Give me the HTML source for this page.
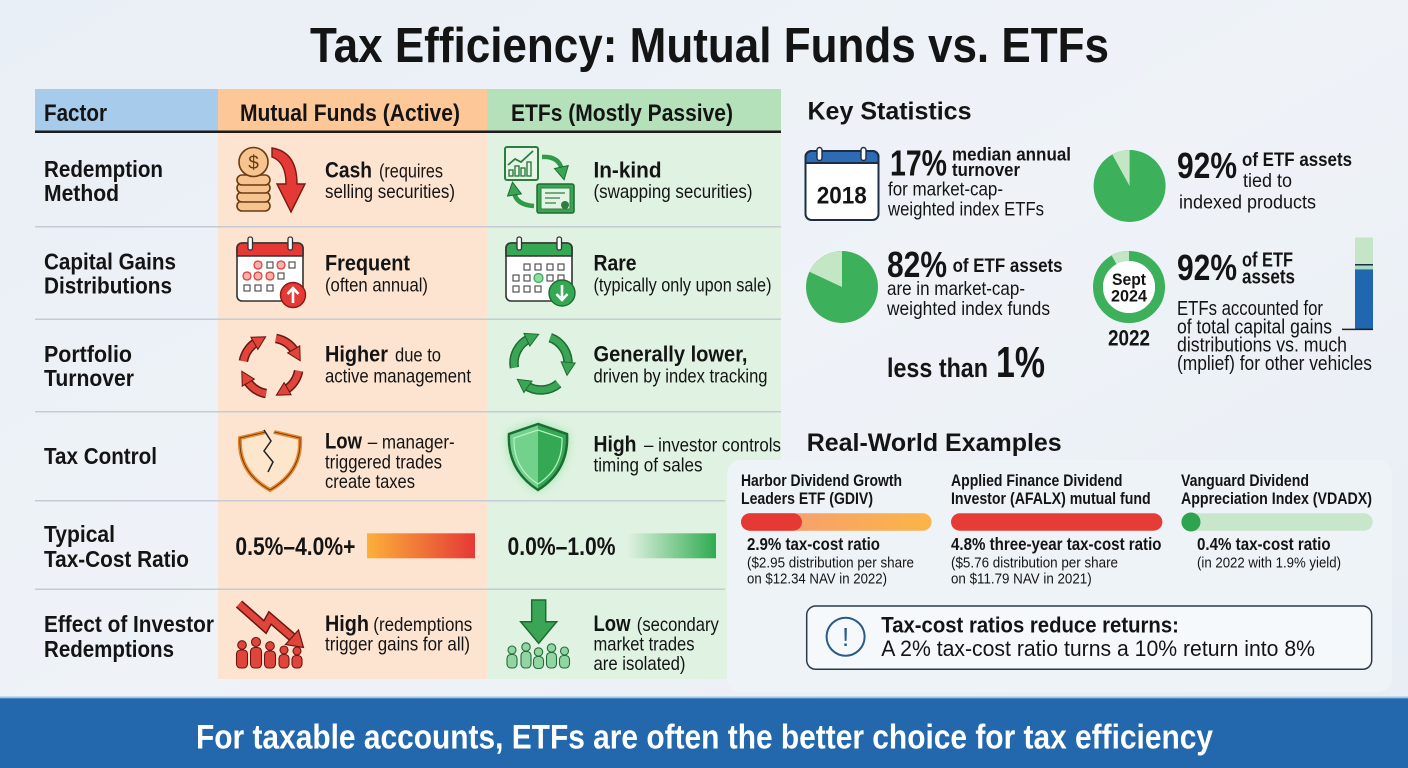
<!DOCTYPE html>
<html><head><meta charset="utf-8"><style>
html,body{margin:0;padding:0;width:1408px;height:768px;overflow:hidden;background:#edf2f7}
svg{display:block}
text{font-family:"Liberation Sans",Arial,sans-serif;fill:#141414}
.b{font-weight:bold}
</style></head><body>
<svg width="1408" height="768" viewBox="0 0 1408 768" xmlns="http://www.w3.org/2000/svg">
<defs>
<linearGradient id="bg" x1="0" y1="0" x2="1" y2="1"><stop offset="0" stop-color="#e9eff6"/><stop offset="0.5" stop-color="#eff3f8"/><stop offset="1" stop-color="#e7edf4"/></linearGradient>
<linearGradient id="og" x1="0" x2="1"><stop offset="0" stop-color="#fbb03b"/><stop offset="1" stop-color="#e53935"/></linearGradient>
<linearGradient id="gg" x1="0" x2="1"><stop offset="0" stop-color="#e3f3e4"/><stop offset="1" stop-color="#2fab50"/></linearGradient>
<linearGradient id="b1" x1="0" x2="1"><stop offset="0" stop-color="#f49a7a"/><stop offset="1" stop-color="#fbb547"/></linearGradient>
<linearGradient id="gs" x1="0" x2="1"><stop offset="0" stop-color="#72d28c"/><stop offset="0.5" stop-color="#72d28c"/><stop offset="0.5" stop-color="#35a853"/><stop offset="1" stop-color="#35a853"/></linearGradient>
<filter id="glow" x="-60%" y="-60%" width="220%" height="220%"><feGaussianBlur stdDeviation="5"/></filter>
<marker id="ar" markerUnits="userSpaceOnUse" markerWidth="14" markerHeight="14" refX="3" refY="7" orient="auto" overflow="visible"><path d="M0,0 L13,7 L0,14 Z" fill="#e0453c" stroke="#6b1510" stroke-width="1"/></marker>
<marker id="ag" markerUnits="userSpaceOnUse" markerWidth="14" markerHeight="14" refX="3" refY="7" orient="auto" overflow="visible"><path d="M0,0 L13,7 L0,14 Z" fill="#3aa655" stroke="#1e6b32" stroke-width="1"/></marker>
</defs>

<rect x="0" y="0" width="1408" height="768" fill="url(#bg)"/>

<!-- Title -->
<text class="b" x="310" y="62" font-size="49" textLength="799" lengthAdjust="spacingAndGlyphs">Tax Efficiency: Mutual Funds vs. ETFs</text>

<!-- Table header -->
<rect x="35" y="89" width="183" height="42" fill="#a7cbeb"/>
<rect x="218" y="89" width="269" height="42" fill="#fdc797"/>
<rect x="487" y="89" width="294" height="42" fill="#b5e1ba"/>
<text class="b" x="44" y="121" font-size="24" textLength="63" lengthAdjust="spacingAndGlyphs">Factor</text>
<text class="b" x="240" y="121" font-size="24" textLength="220" lengthAdjust="spacingAndGlyphs">Mutual Funds (Active)</text>
<text class="b" x="511" y="121" font-size="24" textLength="222" lengthAdjust="spacingAndGlyphs">ETFs (Mostly Passive)</text>

<!-- column bodies -->
<rect x="218" y="133" width="269" height="546" fill="#fde4d1"/>
<path d="M487 133 H781 V667 a12 12 0 0 1 -12 12 H487 Z" fill="#e0f2e1"/>
<rect x="35" y="130.5" width="746" height="2.5" fill="#1d1d1d"/>

<!-- Real world card -->
<rect x="727" y="460" width="665" height="232" rx="14" fill="#eef3f8"/>

<!-- separators -->
<g stroke="#c4cbd2" stroke-width="1.5">
<line x1="35" y1="226.7" x2="781" y2="226.7"/>
<line x1="35" y1="319.3" x2="781" y2="319.3"/>
<line x1="35" y1="411.7" x2="781" y2="411.7"/>
<line x1="35" y1="500.7" x2="725" y2="500.7"/>
<line x1="35" y1="589.3" x2="725" y2="589.3"/>
</g>

<!-- Row labels -->
<text class="b" x="44" y="177" font-size="23" textLength="119" lengthAdjust="spacingAndGlyphs">Redemption</text>
<text class="b" x="44" y="201" font-size="23" textLength="75" lengthAdjust="spacingAndGlyphs">Method</text>
<text class="b" x="44" y="269.5" font-size="23" textLength="132" lengthAdjust="spacingAndGlyphs">Capital Gains</text>
<text class="b" x="44" y="293.5" font-size="23" textLength="128" lengthAdjust="spacingAndGlyphs">Distributions</text>
<text class="b" x="44" y="362" font-size="23" textLength="88" lengthAdjust="spacingAndGlyphs">Portfolio</text>
<text class="b" x="44" y="386" font-size="23" textLength="90" lengthAdjust="spacingAndGlyphs">Turnover</text>
<text class="b" x="44" y="464" font-size="23" textLength="113" lengthAdjust="spacingAndGlyphs">Tax Control</text>
<text class="b" x="44" y="542" font-size="23" textLength="71" lengthAdjust="spacingAndGlyphs">Typical</text>
<text class="b" x="44" y="567" font-size="23" textLength="145" lengthAdjust="spacingAndGlyphs">Tax-Cost Ratio</text>
<text class="b" x="44" y="632" font-size="23" textLength="170" lengthAdjust="spacingAndGlyphs">Effect of Investor</text>
<text class="b" x="44" y="657" font-size="23" textLength="130" lengthAdjust="spacingAndGlyphs">Redemptions</text>

<!-- Mutual fund column text -->
<text class="b" x="325" y="177.5" font-size="22" textLength="47" lengthAdjust="spacingAndGlyphs">Cash</text>
<text x="379" y="177.5" font-size="19.5" textLength="64" lengthAdjust="spacingAndGlyphs">(requires</text>
<text x="325" y="198" font-size="19.5" textLength="130" lengthAdjust="spacingAndGlyphs">selling securities)</text>

<text class="b" x="325" y="270.5" font-size="22" textLength="85" lengthAdjust="spacingAndGlyphs">Frequent</text>
<text x="325" y="291.7" font-size="19.5" textLength="103" lengthAdjust="spacingAndGlyphs">(often annual)</text>

<text class="b" x="325" y="361.7" font-size="22" textLength="63" lengthAdjust="spacingAndGlyphs">Higher</text>
<text x="395" y="361.7" font-size="19.5" textLength="46" lengthAdjust="spacingAndGlyphs">due to</text>
<text x="325" y="382.3" font-size="19.5" textLength="146" lengthAdjust="spacingAndGlyphs">active management</text>

<text class="b" x="325" y="448.3" font-size="22" textLength="37" lengthAdjust="spacingAndGlyphs">Low</text>
<text x="367.7" y="448.3" font-size="19.5" textLength="87" lengthAdjust="spacingAndGlyphs">– manager-</text>
<text x="325" y="468.3" font-size="19.5" textLength="117" lengthAdjust="spacingAndGlyphs">triggered trades</text>
<text x="325" y="487.8" font-size="19.5" textLength="90" lengthAdjust="spacingAndGlyphs">create taxes</text>

<text class="b" x="235.4" y="555" font-size="25" textLength="120" lengthAdjust="spacingAndGlyphs">0.5%–4.0%+</text>
<rect x="367" y="533.3" width="108" height="25" fill="url(#og)"/>

<text class="b" x="325" y="631" font-size="22" textLength="44" lengthAdjust="spacingAndGlyphs">High</text>
<text x="373.3" y="631" font-size="19.5" textLength="99" lengthAdjust="spacingAndGlyphs">(redemptions</text>
<text x="325" y="650.7" font-size="19.5" textLength="145" lengthAdjust="spacingAndGlyphs">trigger gains for all)</text>

<!-- ETF column text -->
<text class="b" x="593.5" y="177.5" font-size="22" textLength="68" lengthAdjust="spacingAndGlyphs">In-kind</text>
<text x="593.5" y="198" font-size="19.5" textLength="159" lengthAdjust="spacingAndGlyphs">(swapping securities)</text>

<text class="b" x="593.5" y="270.5" font-size="22" textLength="43" lengthAdjust="spacingAndGlyphs">Rare</text>
<text x="593.5" y="291.7" font-size="19.5" textLength="178" lengthAdjust="spacingAndGlyphs">(typically only upon sale)</text>

<text class="b" x="593.5" y="361.7" font-size="22" textLength="154" lengthAdjust="spacingAndGlyphs">Generally lower,</text>
<text x="593.5" y="382.3" font-size="19.5" textLength="174" lengthAdjust="spacingAndGlyphs">driven by index tracking</text>

<text class="b" x="593.5" y="451.7" font-size="22" textLength="43" lengthAdjust="spacingAndGlyphs">High</text>
<text x="644" y="451.7" font-size="19.5" textLength="137" lengthAdjust="spacingAndGlyphs">– investor controls</text>
<text x="593.5" y="471.7" font-size="19.5" textLength="109" lengthAdjust="spacingAndGlyphs">timing of sales</text>

<text class="b" x="507.5" y="555" font-size="25" textLength="108" lengthAdjust="spacingAndGlyphs">0.0%–1.0%</text>
<rect x="626" y="533.3" width="90" height="25" fill="url(#gg)"/>

<text class="b" x="593.5" y="631" font-size="22" textLength="37" lengthAdjust="spacingAndGlyphs">Low</text>
<text x="636.8" y="631" font-size="19.5" textLength="82" lengthAdjust="spacingAndGlyphs">(secondary</text>
<text x="593.5" y="650.7" font-size="19.5" textLength="101" lengthAdjust="spacingAndGlyphs">market trades</text>
<text x="593.5" y="670" font-size="19.5" textLength="92" lengthAdjust="spacingAndGlyphs">are isolated)</text>

<!-- ICONS -->
<g stroke="#6b3a12" stroke-width="1.6" fill="#f7c48f">
<rect x="237" y="201" width="33" height="10" rx="5"/>
<rect x="237" y="192" width="33" height="10" rx="5"/>
<rect x="237" y="183" width="33" height="10" rx="5"/>
<rect x="237" y="175" width="33" height="10" rx="5"/>
<circle cx="253.5" cy="162" r="14.5"/>
</g>
<text x="253.5" y="169" font-size="19" text-anchor="middle" style="fill:#6b3a12">$</text>
<path d="M272 148 Q297 152 297 184 L305 184 L291 212 L277 184 L286 184 Q286 162 272 157 Z" fill="#e53935" stroke="#7a1a14" stroke-width="1.4"/>

<rect x="505" y="147" width="33" height="33" rx="2" fill="#e6f5e8" stroke="#2e7d3e" stroke-width="2"/>
<g fill="none" stroke="#2e7d3e" stroke-width="1.4">
<rect x="509" y="170" width="4" height="6"/><rect x="515" y="166" width="4" height="10"/><rect x="521" y="168" width="4" height="8"/><rect x="527" y="162" width="4" height="14"/>
<polyline points="508,165 515,159 521,162 533,151" stroke-width="1.8"/>
</g>
<path d="M542 157 Q559 156 562 170" fill="none" stroke="#2e9b48" stroke-width="4.5" marker-end="url(#ag)"/>
<rect x="537" y="184" width="37" height="29" rx="2" fill="#3aa655" stroke="#1e6b32" stroke-width="1.5"/>
<rect x="541" y="188" width="29" height="21" fill="#e3f4e5" stroke="#2e7d3e" stroke-width="1"/>
<g stroke="#2e7d3e" stroke-width="1.2"><line x1="545" y1="193" x2="565" y2="193"/><line x1="545" y1="198" x2="560" y2="198"/><line x1="545" y1="203" x2="556" y2="203"/></g>
<circle cx="565" cy="205" r="4" fill="#2e7d3e"/>
<path d="M534 206 Q516 205 514 192" fill="none" stroke="#2e9b48" stroke-width="4.5" marker-end="url(#ag)"/>

<rect x="237" y="243" width="66" height="58" rx="5" fill="#fff" stroke="#333" stroke-width="1.6"/>
<path d="M237 256 V248 a5 5 0 0 1 5 -5 H298 a5 5 0 0 1 5 5 V256 Z" fill="#e53935" stroke="#333" stroke-width="1.6"/>
<g fill="#fff" stroke="#333" stroke-width="1.3"><rect x="248" y="237" width="4.5" height="13" rx="2"/><rect x="288" y="237" width="4.5" height="13" rx="2"/></g>
<g fill="none" stroke="#444" stroke-width="1.1">
<rect x="255" y="262" width="6" height="6"/><rect x="267" y="262" width="6" height="6"/><rect x="278" y="262" width="6" height="6"/><rect x="289" y="262" width="6" height="6"/>
<rect x="244" y="273" width="6" height="6"/><rect x="255" y="273" width="6" height="6"/><rect x="267" y="273" width="6" height="6"/><rect x="278" y="273" width="6" height="6"/>
<rect x="244" y="285" width="6" height="6"/><rect x="255" y="285" width="6" height="6"/><rect x="267" y="285" width="6" height="6"/>
</g>
<g fill="#f6b3ae" stroke="#e53935" stroke-width="1.2"><circle cx="258" cy="265" r="4"/><circle cx="281" cy="265" r="4"/><circle cx="247" cy="276" r="4"/><circle cx="258" cy="276" r="4"/><circle cx="270" cy="276" r="4"/></g>
<circle cx="293" cy="295" r="12.5" fill="#e53935" stroke="#8a1a14" stroke-width="1.4"/>
<path d="M293 303 V289 M287.5 294 L293 288 L298.5 294" fill="none" stroke="#fff" stroke-width="2.6"/>

<rect x="506" y="243" width="66" height="58" rx="5" fill="#fff" stroke="#333" stroke-width="1.6"/>
<path d="M506 256 V248 a5 5 0 0 1 5 -5 H567 a5 5 0 0 1 5 5 V256 Z" fill="#35a853" stroke="#333" stroke-width="1.6"/>
<g fill="#fff" stroke="#333" stroke-width="1.3"><rect x="517" y="237" width="4.5" height="13" rx="2"/><rect x="557" y="237" width="4.5" height="13" rx="2"/></g>
<g fill="none" stroke="#444" stroke-width="1.1">
<rect x="524" y="264" width="6" height="6"/><rect x="535" y="264" width="6" height="6"/><rect x="547" y="264" width="6" height="6"/><rect x="558" y="264" width="6" height="6"/>
<rect x="513" y="275" width="6" height="6"/><rect x="524" y="275" width="6" height="6"/><rect x="547" y="275" width="6" height="6"/><rect x="558" y="275" width="6" height="6"/>
<rect x="513" y="286" width="6" height="6"/><rect x="524" y="286" width="6" height="6"/><rect x="535" y="286" width="6" height="6"/>
</g>
<circle cx="538.5" cy="278" r="4.5" fill="#8fdc9f" stroke="#35a853" stroke-width="1.2"/>
<circle cx="562" cy="293" r="13" fill="#35a853" stroke="#1e6b32" stroke-width="1.4"/>
<path d="M562 285 V299 M556.5 294 L562 300 L567.5 294" fill="none" stroke="#fff" stroke-width="2.6"/>

<g fill="none">
<g stroke="#6b1510" stroke-width="9.5">
<path d="M275.9 338.4 A28 28 0 0 1 295.2 352"/><path d="M298.6 370.9 A28 28 0 0 1 285 390.2"/><path d="M266.1 393.6 A28 28 0 0 1 246.8 380"/><path d="M243.4 361.1 A28 28 0 0 1 257 341.8"/>
</g>
<g stroke="#e0453c" stroke-width="6.5">
<path d="M275.9 338.4 A28 28 0 0 1 295.2 352" marker-end="url(#ar)"/><path d="M298.6 370.9 A28 28 0 0 1 285 390.2" marker-end="url(#ar)"/><path d="M266.1 393.6 A28 28 0 0 1 246.8 380" marker-end="url(#ar)"/><path d="M243.4 361.1 A28 28 0 0 1 257 341.8" marker-end="url(#ar)"/>
</g>
</g>
<g fill="none">
<g stroke="#1e6b32" stroke-width="9.5">
<path d="M550.2 337.6 A27 27 0 0 1 567.9 365.4"/><path d="M558.4 383.7 A27 27 0 0 1 525.5 385.1"/><path d="M514.4 367.7 A27 27 0 0 1 529.6 338.5"/>
</g>
<g stroke="#3aa655" stroke-width="6.5">
<path d="M550.2 337.6 A27 27 0 0 1 567.9 365.4" marker-end="url(#ag)"/><path d="M558.4 383.7 A27 27 0 0 1 525.5 385.1" marker-end="url(#ag)"/><path d="M514.4 367.7 A27 27 0 0 1 529.6 338.5" marker-end="url(#ag)"/>
</g>
</g>

<path d="M270 431 L240 438 Q238 472 270 490 Q302 472 300 438 Z" fill="#fde6cc" stroke="#e8862a" stroke-width="4"/>
<path d="M270 431 L240 438 Q238 472 270 490 Q302 472 300 438 Z" fill="none" stroke="#5a3210" stroke-width="0.8"/>
<polygon points="262,426 277,426 269,442" fill="#fde4d1"/>
<polyline points="264,430 271,441 264,451 273,462 268,472" fill="none" stroke="#222" stroke-width="1.5"/>

<path d="M538 424 L509 434 Q507 470 538 490 Q569 470 567 434 Z" fill="#5fe07f" opacity="0.75" filter="url(#glow)"/>
<path d="M538 424 L509 434 Q507 470 538 490 Q569 470 567 434 Z" fill="url(#gs)" stroke="#1f6b35" stroke-width="2.5"/>
<path d="M538 430 L514 438 Q513 468 538 484 Q563 468 562 438 Z" fill="none" stroke="#b9f0c6" stroke-width="1.2"/>

<polyline points="239,604 265,627 270,618 292,637" fill="none" stroke="#6b1510" stroke-width="9.5" stroke-linejoin="miter"/>
<polyline points="239,604 265,627 270,618 292,637" fill="none" stroke="#e0453c" stroke-width="6.5" stroke-linejoin="miter"/>
<polygon points="285.5,644.5 298.5,630 303.5,647.5" fill="#e0453c" stroke="#6b1510" stroke-width="1.2"/>
<g fill="#e0453c" stroke="#6b1510" stroke-width="1.1">
<circle cx="242" cy="645" r="4.3"/><rect x="236.5" y="650" width="11" height="18" rx="4"/>
<circle cx="256" cy="642" r="4.5"/><rect x="250.5" y="647.5" width="11" height="20.5" rx="4"/>
<circle cx="270" cy="646" r="4.3"/><rect x="264.5" y="651" width="11" height="17" rx="4"/>
<circle cx="284" cy="650" r="4"/><rect x="279" y="654.5" width="10" height="13.5" rx="4"/>
<circle cx="297" cy="651" r="4"/><rect x="292" y="655.5" width="10" height="12.5" rx="4"/>
</g>

<polygon points="531.7,600 545.7,600 545.7,621.7 556.7,621.7 538.7,643.3 520.7,621.7 531.7,621.7" fill="#3aa655" stroke="#1e6b32" stroke-width="1.5"/>
<g fill="#91d6a2" stroke="#236b35" stroke-width="1.1">
<circle cx="512" cy="650" r="4"/><rect x="507" y="654.5" width="10" height="13.5" rx="4"/>
<circle cx="526" cy="647" r="4.2"/><rect x="521" y="651.5" width="10" height="16.5" rx="4"/>
<circle cx="538.5" cy="652" r="4.2"/><rect x="533.5" y="656.5" width="10" height="12" rx="4"/>
<circle cx="551.5" cy="648" r="4.2"/><rect x="546.5" y="652.5" width="10" height="15.5" rx="4"/>
<circle cx="564.5" cy="651" r="4"/><rect x="559.5" y="655.5" width="10" height="12.5" rx="4"/>
</g>

<!-- KEY STATISTICS -->
<text class="b" x="807.5" y="119.5" font-size="25" textLength="164" lengthAdjust="spacingAndGlyphs">Key Statistics</text>

<rect x="805.5" y="151" width="73" height="69" rx="6" fill="#fff" stroke="#1d2d44" stroke-width="2"/>
<path d="M805.5 163 V157 a6 6 0 0 1 6 -6 H872.5 a6 6 0 0 1 6 6 V163 Z" fill="#2d6bb5" stroke="#1d2d44" stroke-width="2"/>
<g fill="#fff" stroke="#1d2d44" stroke-width="1.4"><rect x="817" y="147.5" width="5" height="13" rx="2.5"/><rect x="861" y="147.5" width="5" height="13" rx="2.5"/></g>
<text class="b" x="816.7" y="203.3" font-size="24" textLength="50" lengthAdjust="spacingAndGlyphs">2018</text>

<text class="b" x="890" y="175.5" font-size="36" textLength="57" lengthAdjust="spacingAndGlyphs">17%</text>
<text class="b" x="952" y="160.7" font-size="18.5" textLength="119" lengthAdjust="spacingAndGlyphs">median annual</text>
<text class="b" x="952" y="176" font-size="18.5" textLength="68" lengthAdjust="spacingAndGlyphs">turnover</text>
<text x="888" y="195.5" font-size="19.5" textLength="115" lengthAdjust="spacingAndGlyphs">for market-cap-</text>
<text x="888" y="215.5" font-size="19.5" textLength="156" lengthAdjust="spacingAndGlyphs">weighted index ETFs</text>

<circle cx="1129.6" cy="186" r="36" fill="#3cb05a"/>
<path d="M1129.6 186 L1129.6 150 A36 36 0 0 0 1112.3 154.5 Z" fill="#c3e6c5"/>
<text class="b" x="1177" y="178" font-size="36" textLength="60" lengthAdjust="spacingAndGlyphs">92%</text>
<text class="b" x="1242" y="166" font-size="19.5" textLength="110" lengthAdjust="spacingAndGlyphs">of ETF assets</text>
<text x="1243" y="187" font-size="19.5" textLength="49" lengthAdjust="spacingAndGlyphs">tied to</text>
<text x="1179" y="208.5" font-size="19.5" textLength="137" lengthAdjust="spacingAndGlyphs">indexed products</text>

<circle cx="842" cy="287" r="36" fill="#3cb05a"/>
<path d="M842 287 L842 251 A36 36 0 0 0 809.4 271.7 Z" fill="#c3e6c5"/>
<text class="b" x="887" y="277" font-size="36" textLength="60" lengthAdjust="spacingAndGlyphs">82%</text>
<text class="b" x="952.6" y="272" font-size="19.5" textLength="110" lengthAdjust="spacingAndGlyphs">of ETF assets</text>
<text x="887" y="295" font-size="19.5" textLength="138" lengthAdjust="spacingAndGlyphs">are in market-cap-</text>
<text x="887" y="315" font-size="19.5" textLength="163" lengthAdjust="spacingAndGlyphs">weighted index funds</text>

<text class="b" x="887" y="377" font-size="27" textLength="101" lengthAdjust="spacingAndGlyphs">less than</text>
<text class="b" x="996" y="377" font-size="44" textLength="49" lengthAdjust="spacingAndGlyphs">1%</text>

<!-- donut -->
<circle cx="1129" cy="287" r="31" fill="none" stroke="#3cb05a" stroke-width="10"/>
<path d="M1129 256 A31 31 0 0 0 1114.1 259.9" fill="none" stroke="#c3e6c5" stroke-width="10"/>
<circle cx="1129" cy="287" r="26" fill="#fff"/>
<text class="b" x="1129" y="285" font-size="17" text-anchor="middle" textLength="34" lengthAdjust="spacingAndGlyphs">Sept</text>
<text class="b" x="1129" y="301.7" font-size="17" text-anchor="middle" textLength="36" lengthAdjust="spacingAndGlyphs">2024</text>
<text class="b" x="1108" y="345.5" font-size="22" textLength="42" lengthAdjust="spacingAndGlyphs">2022</text>

<text class="b" x="1177" y="280" font-size="36" textLength="60" lengthAdjust="spacingAndGlyphs">92%</text>
<text class="b" x="1242" y="266.7" font-size="20" textLength="51" lengthAdjust="spacingAndGlyphs">of ETF</text>
<text class="b" x="1242" y="283.3" font-size="20" textLength="53" lengthAdjust="spacingAndGlyphs">assets</text>
<text x="1177" y="315" font-size="20" textLength="146" lengthAdjust="spacingAndGlyphs">ETFs accounted for</text>
<text x="1177" y="333.3" font-size="20" textLength="155" lengthAdjust="spacingAndGlyphs">of total capital gains</text>
<text x="1177" y="351.7" font-size="20" textLength="170" lengthAdjust="spacingAndGlyphs">distributions vs. much</text>
<text x="1177" y="370" font-size="20" textLength="195" lengthAdjust="spacingAndGlyphs">(mplief) for other vehicles</text>

<rect x="1355" y="237.5" width="18" height="27" fill="#c5e5c7"/>
<rect x="1355" y="264" width="18" height="1.6" fill="#1d2d44"/>
<rect x="1355" y="265.6" width="18" height="3.8" fill="#a8dcc0"/>
<rect x="1355" y="269.4" width="18" height="60" fill="#2166b0"/>
<line x1="1342" y1="329.4" x2="1373" y2="329.4" stroke="#222" stroke-width="1.5"/>

<!-- REAL WORLD EXAMPLES -->
<text class="b" x="806.7" y="451" font-size="25" textLength="255" lengthAdjust="spacingAndGlyphs">Real-World Examples</text>

<text class="b" x="741" y="486" font-size="16.5" textLength="161" lengthAdjust="spacingAndGlyphs">Harbor Dividend Growth</text>
<text class="b" x="741" y="504" font-size="16.5" textLength="132" lengthAdjust="spacingAndGlyphs">Leaders ETF (GDIV)</text>
<rect x="741" y="513.3" width="190.6" height="17.4" rx="8.7" fill="url(#b1)"/>
<rect x="741" y="513.3" width="61" height="17.4" rx="8.7" fill="#e53935"/>
<text class="b" x="747" y="550" font-size="17.5" textLength="133" lengthAdjust="spacingAndGlyphs">2.9% tax-cost ratio</text>
<text x="747" y="567.3" font-size="14.5" textLength="167" lengthAdjust="spacingAndGlyphs">($2.95 distribution per share</text>
<text x="747" y="583.3" font-size="14.5" textLength="140" lengthAdjust="spacingAndGlyphs">on $12.34 NAV in 2022)</text>

<text class="b" x="951" y="486" font-size="16.5" textLength="171.5" lengthAdjust="spacingAndGlyphs">Applied Finance Dividend</text>
<text class="b" x="951" y="504" font-size="16.5" textLength="199.7" lengthAdjust="spacingAndGlyphs">Investor (AFALX) mutual fund</text>
<rect x="951" y="513.3" width="211.4" height="17.4" rx="8.7" fill="#e53c37"/>
<text class="b" x="951" y="550" font-size="17.5" textLength="210.5" lengthAdjust="spacingAndGlyphs">4.8% three-year tax-cost ratio</text>
<text x="951" y="567.3" font-size="14.5" textLength="167" lengthAdjust="spacingAndGlyphs">($5.76 distribution per share</text>
<text x="951" y="583.3" font-size="14.5" textLength="140.7" lengthAdjust="spacingAndGlyphs">on $11.79 NAV in 2021)</text>

<text class="b" x="1181" y="486" font-size="16.5" textLength="128" lengthAdjust="spacingAndGlyphs">Vanguard Dividend</text>
<text class="b" x="1181" y="504" font-size="16.5" textLength="191" lengthAdjust="spacingAndGlyphs">Appreciation Index (VDADX)</text>
<rect x="1181" y="513.3" width="191.7" height="17.4" rx="8.7" fill="#c8e6c9"/>
<circle cx="1191" cy="522" r="9.5" fill="#2ea44f"/>
<text class="b" x="1197" y="550" font-size="17.5" textLength="133.6" lengthAdjust="spacingAndGlyphs">0.4% tax-cost ratio</text>
<text x="1197" y="567.3" font-size="14.5" textLength="144" lengthAdjust="spacingAndGlyphs">(in 2022 with 1.9% yield)</text>

<rect x="806.7" y="606" width="565" height="63.3" rx="9" fill="#f6f9fc" stroke="#2b3a4a" stroke-width="1.5"/>
<circle cx="845.6" cy="636.7" r="19" fill="none" stroke="#2a5a8a" stroke-width="2"/>
<text x="845.6" y="646" font-size="26" text-anchor="middle" style="fill:#2a5a8a">!</text>
<text class="b" x="881.3" y="632.7" font-size="22" textLength="297.6" lengthAdjust="spacingAndGlyphs">Tax-cost ratios reduce returns:</text>
<text x="881.3" y="656" font-size="22" textLength="433.7" lengthAdjust="spacingAndGlyphs">A 2% tax-cost ratio turns a 10% return into 8%</text>

<!-- Banner -->
<rect x="0" y="696.5" width="1408" height="1.8" fill="#9cc3e3"/>
<rect x="0" y="698.3" width="1408" height="69.7" fill="#2368ad"/>
<text class="b" x="196" y="748.3" font-size="34" textLength="1017" lengthAdjust="spacingAndGlyphs" style="fill:#ffffff">For taxable accounts, ETFs are often the better choice for tax efficiency</text>
</svg>
</body></html>
